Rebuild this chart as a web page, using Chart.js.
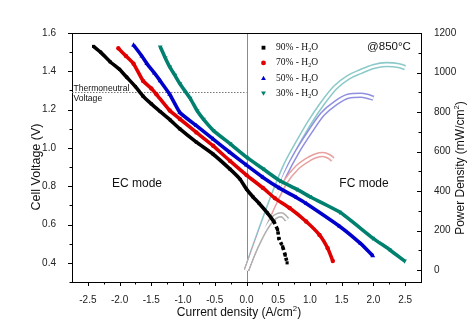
<!DOCTYPE html>
<html>
<head>
<meta charset="utf-8">
<script src="https://cdn.jsdelivr.net/npm/chart.js@4.4.1/dist/chart.umd.min.js"></script>
<style>
  html, body { margin: 0; padding: 0; background: #fff; }
  #wrap { width: 474px; height: 331px; }
</style>
</head>
<body>
<div id="wrap"><canvas id="chart" width="474" height="331"></canvas></div>
<script>
// ============================================================
// Data
// ============================================================

// cell voltage (V) vs current density (A/cm2)
const h2o90Current = [-2.41, -2.3, -2.15, -2.0, -1.89, -1.75, -1.63, -1.5, -1.36, -1.2, -1.05, -0.79, -0.525, -0.26, -0.1, 0, 0.1, 0.2, 0.33, 0.43, 0.49, 0.51, 0.57, 0.61, 0.64];
const h2o90Voltage = [1.53, 1.50, 1.45, 1.41, 1.37, 1.32, 1.27, 1.23, 1.19, 1.145, 1.099, 1.03, 0.967, 0.889, 0.836, 0.785, 0.745, 0.71, 0.66, 0.616, 0.572, 0.528, 0.484, 0.44, 0.40];

const h2o70Current = [-2.02, -1.9, -1.78, -1.63, -1.5, -1.42, -1.21, -1.05, -0.79, -0.525, -0.26, 0, 0.26, 0.445, 0.68, 0.94, 1.15, 1.28, 1.36];
const h2o70Voltage = [1.52, 1.48, 1.44, 1.35, 1.31, 1.28, 1.195, 1.151, 1.081, 1.011, 0.932, 0.858, 0.791, 0.738, 0.686, 0.616, 0.546, 0.476, 0.41];

const h2o50Current = [-1.78, -1.65, -1.57, -1.45, -1.36, -1.21, -1.05, -0.79, -0.525, -0.26, 0, 0.26, 0.52, 0.79, 0.94, 1.47, 1.8, 1.99];
const h2o50Voltage = [1.537, 1.48, 1.44, 1.39, 1.35, 1.28, 1.185, 1.116, 1.046, 0.976, 0.91, 0.846, 0.79, 0.74, 0.71, 0.59, 0.5, 0.437];

const h2o30Current = [-1.36, -1.28, -1.21, -1.13, -1.05, -0.89, -0.78, -0.68, -0.525, -0.26, 0, 0.26, 0.52, 0.79, 1.0, 1.47, 1.99, 2.25, 2.49];
const h2o30Voltage = [1.528, 1.47, 1.423, 1.38, 1.335, 1.26, 1.195, 1.15, 1.092, 1.022, 0.952, 0.891, 0.83, 0.785, 0.745, 0.665, 0.529, 0.47, 0.41];

// power density (mW/cm2) vs current density, fuel cell side
const h2o90PowerCurrent = [0, 0.1, 0.2, 0.3, 0.4, 0.5, 0.55, 0.6, 0.64];
const h2o90Power = [0, 80, 150, 210, 255, 278, 280, 270, 255];

const h2o70PowerCurrent = [0, 0.2, 0.4, 0.6, 0.8, 1.0, 1.1, 1.2, 1.3, 1.36];
const h2o70Power = [0, 165, 310, 440, 520, 565, 580, 585, 575, 560];

const h2o50PowerCurrent = [0, 0.2, 0.4, 0.6, 0.8, 1.0, 1.2, 1.4, 1.6, 1.8, 1.9, 2.0];
const h2o50Power = [0, 170, 335, 480, 600, 700, 790, 845, 880, 885, 880, 870];

const h2o30PowerCurrent = [0, 0.1, 0.2, 0.4, 0.6, 0.8, 1.0, 1.2, 1.4, 1.6, 1.8, 2.0, 2.2, 2.4, 2.5];
const h2o30Power = [0, 95, 185, 360, 520, 640, 750, 845, 925, 975, 1005, 1030, 1040, 1035, 1025];

// tick labels
const currentTicks = [-2.5, -2.0, -1.5, -1.0, -0.5, 0, 0.5, 1.0, 1.5, 2.0, 2.5];
const voltageTicks = [0.4, 0.6, 0.8, 1.0, 1.2, 1.4, 1.6];
const powerTicks = [0, 200, 400, 600, 800, 1000, 1200];

const seriesLabels = ["90%", "70%", "50%", "30%"];
const thermoneutralVoltage = 1.29;

// ============================================================
// Helpers
// ============================================================

const pts = (xs, ys) => xs.map((x, i) => ({ x: x, y: ys[i] }));

const voltageSet = (label, xs, ys, color, style, rot, dashFrom) => ({
  label: label,
  data: pts(xs, ys),
  yAxisID: "y",
  borderColor: color,
  backgroundColor: color,
  borderWidth: 3.6,
  pointStyle: style,
  pointRotation: rot,
  pointRadius: style === "triangle" ? 2.8 : 2.2,
  pointBorderWidth: 0,
  pointBackgroundColor: color,
  showLine: true,
  tension: 0.15,
  order: 1,
  segment: dashFrom === undefined ? {} : {
    borderDash: (c) => (c.p0.parsed.x >= dashFrom ? [3, 2.5] : undefined),
  },
});

const powerOuter = (xs, ys, color) => ({
  data: pts(xs, ys),
  yAxisID: "y1",
  borderColor: color,
  borderWidth: 5.5,
  pointRadius: 0,
  showLine: true,
  cubicInterpolationMode: "monotone",
  order: 4,
});

const powerInner = (xs, ys) => ({
  data: pts(xs, ys),
  yAxisID: "y1",
  borderColor: "#ffffff",
  borderWidth: 2.4,
  pointRadius: 0,
  showLine: true,
  cubicInterpolationMode: "monotone",
  order: 3,
});

const fixTicks = (values) => (scale) => {
  scale.ticks = values.map((v) => ({ value: v }));
};

// text with super / subscripts, parts = [[text, "sup"|"sub"|""], ...]
function drawRich(ctx, parts, x, y, size, family, align) {
  let total = 0;
  parts.forEach((p) => {
    ctx.font = (p[1] ? size * 0.65 : size) + "px " + family;
    total += ctx.measureText(p[0]).width;
  });
  let cx = align === "center" ? x - total / 2 : x;
  ctx.textAlign = "left";
  ctx.textBaseline = "middle";
  parts.forEach((p) => {
    let dy = 0;
    if (p[1] === "sup") dy = -size * 0.38;
    if (p[1] === "sub") dy = size * 0.3;
    ctx.font = (p[1] ? size * 0.65 : size) + "px " + family;
    ctx.fillText(p[0], cx, y + dy);
    cx += ctx.measureText(p[0]).width;
  });
}

function drawMarker(ctx, style, color, x, y, r) {
  ctx.save();
  ctx.fillStyle = color;
  ctx.beginPath();
  if (style === "rect") {
    ctx.rect(x - r * 0.8, y - r * 0.8, r * 1.6, r * 1.6);
  } else if (style === "circle") {
    ctx.arc(x, y, r, 0, Math.PI * 2);
  } else if (style === "up") {
    ctx.moveTo(x, y - r);
    ctx.lineTo(x + r, y + r * 0.8);
    ctx.lineTo(x - r, y + r * 0.8);
  } else {
    ctx.moveTo(x, y + r);
    ctx.lineTo(x + r, y - r * 0.8);
    ctx.lineTo(x - r, y - r * 0.8);
  }
  ctx.closePath();
  ctx.fill();
  ctx.restore();
}

// ============================================================
// Overlay plugin: guide lines, ticks, titles, legend, notes
// ============================================================

const overlay = {
  id: "overlay",
  beforeDatasetsDraw(chart) {
    const ctx = chart.ctx;
    const a = chart.chartArea;
    const x = chart.scales.x;
    const y = chart.scales.y;
    ctx.save();
    // x = 0 line
    ctx.strokeStyle = "#8a8a8a";
    ctx.lineWidth = 1;
    ctx.beginPath();
    ctx.moveTo(Math.round(x.getPixelForValue(0)) + 0.5, a.top);
    ctx.lineTo(Math.round(x.getPixelForValue(0)) + 0.5, a.bottom);
    ctx.stroke();
    // thermoneutral voltage
    const ty = Math.round(y.getPixelForValue(thermoneutralVoltage)) + 0.5;
    ctx.setLineDash([1.5, 1.5]);
    ctx.strokeStyle = "#777";
    ctx.beginPath();
    ctx.moveTo(a.left, ty);
    ctx.lineTo(x.getPixelForValue(0), ty);
    ctx.stroke();
    ctx.restore();
  },
  afterDraw(chart) {
    const ctx = chart.ctx;
    const a = chart.chartArea;
    const x = chart.scales.x;
    const y = chart.scales.y;
    const y1 = chart.scales.y1;
    ctx.save();
    ctx.strokeStyle = "#000";
    ctx.lineWidth = 1;

    // top frame line
    ctx.beginPath();
    ctx.moveTo(a.left, a.top + 0.5);
    ctx.lineTo(a.right, a.top + 0.5);
    ctx.stroke();

    // bottom ticks, outward
    for (let v = -2.5; v <= 2.51; v += 0.25) {
      const px = Math.round(x.getPixelForValue(v)) + 0.5;
      const major = Math.abs(v * 2 - Math.round(v * 2)) < 1e-6;
      ctx.beginPath();
      ctx.moveTo(px, a.bottom);
      ctx.lineTo(px, a.bottom + (major ? 4 : 2.5));
      ctx.stroke();
    }
    // left ticks, outward
    for (let v = 0.3; v <= 1.601; v += 0.1) {
      const py = Math.round(y.getPixelForValue(v)) + 0.5;
      const major = Math.round(v * 10) % 2 === 0;
      ctx.beginPath();
      ctx.moveTo(a.left, py);
      ctx.lineTo(a.left - (major ? 4 : 2.5), py);
      ctx.stroke();
    }
    // right ticks, inward
    for (let v = 0; v <= 1200; v += 100) {
      const py = Math.round(y1.getPixelForValue(v)) + 0.5;
      ctx.beginPath();
      ctx.moveTo(a.right, py);
      ctx.lineTo(a.right - (v % 200 === 0 ? 4 : 2.5), py);
      ctx.stroke();
    }

    // axis titles
    const sans = "'Liberation Sans', Arial, sans-serif";
    ctx.fillStyle = "#111";
    drawRich(ctx, [["Current density (A/cm", ""], ["2", "sup"], [")", ""]], 239, 313, 12, sans, "center");

    ctx.save();
    ctx.translate(37, 167);
    ctx.rotate(-Math.PI / 2);
    drawRich(ctx, [["Cell Voltage (V)", ""]], 0, 0, 12.5, sans, "center");
    ctx.restore();

    ctx.save();
    ctx.translate(461, 168);
    ctx.rotate(-Math.PI / 2);
    drawRich(ctx, [["Power Density (mW/cm", ""], ["2", "sup"], [")", ""]], 0, 0, 12, sans, "center");
    ctx.restore();

    // notes
    drawRich(ctx, [["EC mode", ""]], 137, 184, 12, sans, "center");
    drawRich(ctx, [["FC mode", ""]], 364, 184, 12, sans, "center");
    drawRich(ctx, [["@850\u00b0C", ""]], 389, 47, 11.5, sans, "center");
    drawRich(ctx, [["Thermoneutral", ""]], 73.5, 89, 8.6, sans, "left");
    drawRich(ctx, [["Voltage", ""]], 73.5, 98.5, 8.6, sans, "left");

    // legend
    const serif = "'Liberation Serif', 'Times New Roman', serif";
    const legendColors = ["#000000", "#e00000", "#0000cc", "#00806e"];
    const legendStyles = ["rect", "circle", "up", "down"];
    for (let i = 0; i < 4; i++) {
      const ly = 47.7 + i * 15.2;
      drawMarker(ctx, legendStyles[i], legendColors[i], 263.5, ly, 2.4);
      ctx.fillStyle = "#111";
      drawRich(ctx, [[seriesLabels[i] + " - H", ""], ["2", "sub"], ["O", ""]], 276, ly, 9.5, serif, "left");
    }
    ctx.restore();
  },
};

// ============================================================
// Chart
// ============================================================

const tickFont = { family: "'Liberation Sans', Arial, sans-serif", size: 10 };

new Chart(document.getElementById("chart").getContext("2d"), {
  type: "scatter",
  data: {
    datasets: [
      voltageSet("90% - H2O", h2o90Current, h2o90Voltage, "#000000", "rect", 0, 0.42),
      voltageSet("70% - H2O", h2o70Current, h2o70Voltage, "#e00000", "circle", 0),
      voltageSet("50% - H2O", h2o50Current, h2o50Voltage, "#0000cc", "triangle", 0),
      voltageSet("30% - H2O", h2o30Current, h2o30Voltage, "#00806e", "triangle", 180),
      powerOuter(h2o90PowerCurrent, h2o90Power, "#b0b0b0"),
      powerOuter(h2o70PowerCurrent, h2o70Power, "#e8a0a0"),
      powerOuter(h2o50PowerCurrent, h2o50Power, "#9090e0"),
      powerOuter(h2o30PowerCurrent, h2o30Power, "#8ccaca"),
      powerInner(h2o90PowerCurrent, h2o90Power),
      powerInner(h2o70PowerCurrent, h2o70Power),
      powerInner(h2o50PowerCurrent, h2o50Power),
      powerInner(h2o30PowerCurrent, h2o30Power),
    ],
  },
  options: {
    responsive: false,
    animation: false,
    layout: { padding: { top: 33, left: 0, right: 0, bottom: 0 } },
    plugins: { legend: { display: false }, tooltip: { enabled: false } },
    scales: {
      x: {
        type: "linear",
        min: -2.75,
        max: 2.75,
        afterBuildTicks: fixTicks(currentTicks),
        afterFit: (s) => { s.height = 49; },
        grid: { display: false },
        border: { display: true, color: "#000", width: 1 },
        ticks: { font: tickFont, color: "#222", padding: 4, maxRotation: 0, autoSkip: false,
          callback: (v) => v.toFixed(1) },
      },
      y: {
        type: "linear",
        position: "left",
        min: 0.3,
        max: 1.6,
        afterBuildTicks: fixTicks(voltageTicks),
        afterFit: (s) => { s.width = 72; },
        grid: { display: false },
        border: { display: true, color: "#000", width: 1 },
        ticks: { font: tickFont, color: "#222", padding: 8, callback: (v) => v.toFixed(1) },
      },
      y1: {
        type: "linear",
        position: "right",
        min: -60,
        max: 1200,
        afterBuildTicks: fixTicks(powerTicks),
        afterFit: (s) => { s.width = 53; },
        grid: { display: false },
        border: { display: true, color: "#000", width: 1 },
        ticks: { font: tickFont, color: "#222", padding: 5, callback: (v) => String(v) },
      },
    },
  },
  plugins: [overlay],
});
</script>
</body>
</html>
